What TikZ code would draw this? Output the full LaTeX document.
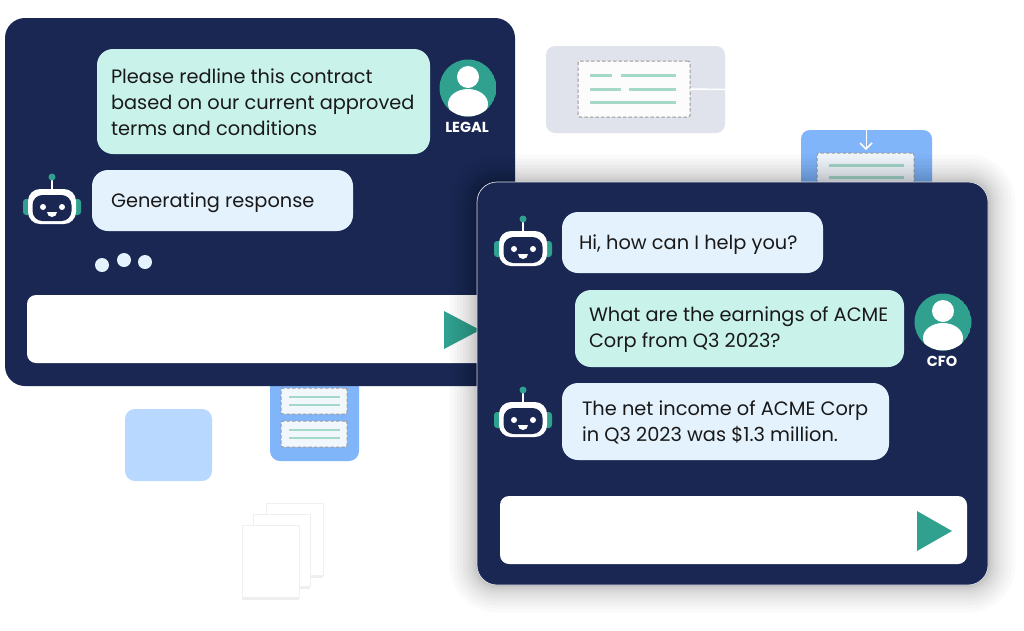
\documentclass[tikz,border=0pt]{standalone}
\usepackage{fontspec}
\setmainfont{Poppins}
\usetikzlibrary{positioning,shadows}
\definecolor{navy}{HTML}{1A2753}
\definecolor{teal_dark}{HTML}{2FA18E}
\definecolor{mint}{HTML}{C9F2EA}
\definecolor{ice}{HTML}{E3F2FD}
\definecolor{sky}{HTML}{80B5FA}
\definecolor{sky_light}{HTML}{B8D8FF}
\definecolor{ash}{HTML}{E1E3EC}
\definecolor{rule_green}{HTML}{A4D9CA}

\begin{document}
\begin{tikzpicture}[
  x=1pt,y=-1pt,
  box/.style={inner sep=0pt,outer sep=0pt,rectangle},
  panel/.style={box,fill=navy,rounded corners=20pt},
  bubble_green/.style={box,fill=mint,rounded corners=16pt},
  bubble_blue/.style={box,fill=ice,rounded corners=16pt},
  chat_text/.style={box,align=left,yshift=-1pt,text=black!90,font=\fontsize{19.35}{26}\selectfont},
  one_line/.style={yshift=-1.5pt},
  input_box/.style={box,fill=white,rounded corners=9pt},
  send_tip/.style={fill=teal_dark},
  dash_box/.style={box,fill=white,fill opacity=.9,draw=black!40,line width=1pt,dash pattern=on 3.5pt off 2pt,rounded corners=2pt},
  rule_line/.style={draw=rule_green,line width=3pt},
  paper/.style={box,fill=white,draw=black!6,line width=.7pt,drop shadow={shadow xshift=0pt,shadow yshift=-3pt,opacity=.12}},
  robot/.pic={
    \fill[teal_dark,rounded corners=3pt] (-29,-8) rectangle (29,8);
    \fill[white,rounded corners=12pt] (-24,-18) rectangle (24,17);
    \fill[navy,rounded corners=10pt] (-19.5,-12) rectangle (19.5,14);
    \draw[white,line width=1.2pt] (0,-18) -- (0,-28);
    \fill[teal_dark] (0,-30) circle (3.5);
    \fill[white] (-9,0) circle (3) (10,0) circle (3);
    \fill[white] (-5,5) arc[start angle=180,end angle=360,x radius=5,y radius=-5] -- cycle;
  },
  avatar/.pic={
    \begin{scope}
      \clip (0,0) circle (28.5);
      \fill[teal_dark] (0,0) circle (28.5);
      \fill[white] (0,-11) circle (11);
      \fill[white] (0,16) ellipse (20 and 15);
    \end{scope}
    \node[text=white,font=\fontsize{14.5}{16}\selectfont\bfseries] (-label) at (-1,39) {#1};
  }
  ]
  \useasboundingbox (0,0) rectangle (1024,630);
  \fill[white] (0,0) rectangle (1024,630);

  % pieces lying behind the panels
  \node[box,fill=ash,rounded corners=9pt,minimum width=179,minimum height=87] (GrayCard) at (635.5,89.5) {};
  \node[dash_box,minimum width=112,minimum height=56] (GrayInner) at (634,89) {};
  \draw[white,line width=1.5pt] (GrayInner.east) -- (GrayCard.east);
  \draw[rule_line] (590,75) -- (612,75) (621,75) -- (676,75);
  \draw[rule_line] (590,89) -- (621,89) (629,89) -- (676,89);
  \draw[rule_line] (590,102) -- (676,102);

  \node[box,fill=sky,rounded corners=9pt,minimum width=131,minimum height=90] (BlueTop) at (866.5,175) {};
  \node[dash_box,minimum width=97,minimum height=50] (BlueTopInner) at (865.5,178) {};
  \draw[white,line width=1.5pt] (BlueTop.north) -- ++(0,18);
  \draw[white,line width=1.5pt] (860,143) -- (866,149) -- (872,143);
  \draw[rule_line] (829,165) -- (904,165) (829,177) -- (904,177);

  \node[box,fill=sky_light,rounded corners=10pt,minimum width=87,minimum height=72] (BlueSoft) at (168.5,445) {};

  \node[box,fill=sky,rounded corners=10pt,minimum width=89,minimum height=100] (BlueLow) at (314.5,411) {};
  \foreach \y in {401,434} {
    \node[dash_box,minimum width=66,minimum height=26] at (314,\y) {};
    \draw[rule_green,line width=1.6pt] (289,\y-4) -- (340,\y-4) (289,\y+4) -- (340,\y+4);
  }

  \node[paper,anchor=north west,minimum width=57,minimum height=72] (PaperA) at (266,503) {};
  \node[paper,anchor=north west,minimum width=57,minimum height=72] (PaperB) at (253,514) {};
  \node[paper,anchor=north west,minimum width=57,minimum height=72] (PaperC) at (242,525) {};

  % left chat
  \node[panel,anchor=north west,minimum width=510,minimum height=368] (PanelL) at (5,18) {};
  \node[bubble_green,anchor=north west,minimum width=333,minimum height=105] (AskL) at (97,49) {};
  \node[chat_text,right=14pt of AskL.west] (AskLText)
    {Please redline this contract\\based on our current approved\\terms and conditions};
  \pic (Legal) at (468,88) {avatar=LEGAL};
  \pic (BotL) at (52,207) {robot};
  \node[bubble_blue,anchor=north west,minimum width=261,minimum height=61] (ReplyL) at (92,170) {};
  \node[chat_text,one_line,right=19pt of ReplyL.west] (ReplyLText) {Generating response};
  \foreach \x/\y in {102/265,124/260,145/262}
    \fill[ice] (\x,\y) circle (7);
  \node[input_box,anchor=north west,minimum width=470,minimum height=68] (InputL) at (27,295) {};
  \fill[send_tip] (444,311) -- (444,349) -- (480,330) -- cycle;

  % soft shadow of the right chat
  \foreach \s in {1,...,14}
    \fill[black,opacity=.018,rounded corners=20pt+.14*\s*\s] (477-.14*\s*\s,182-.14*\s*\s) rectangle (988+.14*\s*\s,585+.14*\s*\s);

  % right chat
  \node[panel,draw=white!85!navy,line width=.7pt,anchor=north west,minimum width=511,minimum height=403] (PanelR) at (477,182) {};
  \pic (BotA) at (523,249) {robot};
  \node[bubble_blue,anchor=north west,minimum width=261,minimum height=61] (ReplyA) at (562,212) {};
  \node[chat_text,one_line,right=17pt of ReplyA.west] (ReplyAText) {Hi, how can I help you?};
  \node[bubble_green,anchor=north west,minimum width=329,minimum height=77] (AskR) at (575,290) {};
  \node[chat_text,right=14pt of AskR.west] (AskRText)
    {What are the earnings of ACME\\Corp from Q3 2023?};
  \pic (Cfo) at (943,322) {avatar=CFO};
  \pic (BotB) at (523,420) {robot};
  \node[bubble_blue,anchor=north west,minimum width=327,minimum height=77] (ReplyB) at (562,383) {};
  \node[chat_text,right=20pt of ReplyB.west] (ReplyBText)
    {The net income of ACME Corp\\in Q3 2023 was \$1.3 million.};
  \node[input_box,anchor=north west,minimum width=467,minimum height=68] (InputR) at (500,496) {};
  \fill[send_tip] (917,511) -- (917,551) -- (952,531) -- cycle;
\end{tikzpicture}
\end{document}
